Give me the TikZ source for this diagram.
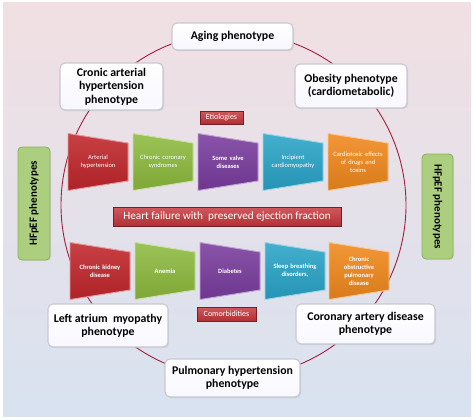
\documentclass[tikz,border=0pt]{standalone}
\usepackage{fontspec}
\setmainfont{Carlito}
\usetikzlibrary{shadows}
\definecolor{bgtop}{HTML}{F1E0E3}
\definecolor{bgbot}{HTML}{D8E2F0}
\definecolor{ringred}{HTML}{A31F3D}
\definecolor{tred}{HTML}{C0262B}
\definecolor{tgreen}{HTML}{8DBA3E}
\definecolor{tpurple}{HTML}{7A3C9E}
\definecolor{tcyan}{HTML}{2AA4C8}
\definecolor{torange}{HTML}{F0881C}
\definecolor{lblred}{HTML}{C4343A}
\definecolor{boxedge}{HTML}{C8C8D2}
\definecolor{hgreen}{HTML}{ABCF7E}
\definecolor{hgreenedge}{HTML}{8DB05C}
\newcommand{\trapz}[6]{% name, xleft, ycenter, colour, font, text
  \path[fill=#4, top color=#4!88!white, bottom color=#4!90!black, draw=#4!45!white, line width=0.9pt]
    (#2,#3-28.5) -- (#2+60,#3-19) -- (#2+60,#3+19) -- (#2,#3+28.5) -- cycle;
  \node[traptext, font=#5] (#1) at (#2+30,#3) {#6};}
\begin{document}
\begin{tikzpicture}[x=1pt,y=-1pt,
  pheno/.style={rounded corners=5pt, top color=white, bottom color=black!7!blue!3!white,
    draw=boxedge, line width=1.1pt, font=\fontsize{11.8}{13.3}\selectfont\bfseries, align=center,
    inner sep=2pt, drop shadow={opacity=0.18, shadow xshift=1pt, shadow yshift=-1.2pt}},
  redlbl/.style={top color=lblred!82!white, bottom color=lblred!90!black, draw=lblred!60!black,
    line width=0.4pt, text=white, inner sep=1pt},
  hfbox/.style={rounded corners=4pt, fill=hgreen, draw=hgreenedge, line width=0.8pt,
    font=\fontsize{11}{13}\selectfont\bfseries, inner sep=1pt,
    drop shadow={opacity=0.15, shadow xshift=1pt, shadow yshift=-1pt}},
  traptext/.style={text=white, align=center, text width=58pt, inner sep=0pt},
  tfont/.style={font=\fontsize{6.5}{8}\selectfont},
  ring/.style={draw=ringred, line width=0.9pt}]
% background
\fill[white] (0,0) rectangle (474,420);
\shade[top color=bgtop, bottom color=bgbot] (3,3) rectangle (471,416);
\useasboundingbox (0,0) rectangle (474,420);
% ring
\coordinate (ctr) at (233.5,205);
\draw[ring] (ctr) circle[radius=172.5pt];
% phenotype boxes
\node[pheno, minimum width=121pt, minimum height=27pt] (aging) at (232.5,36.5) {Aging phenotype};
\node[pheno, minimum width=103pt, minimum height=47pt] (cronic) at (111.5,86.5) {Cronic arterial\\hypertension\\phenotype};
\node[pheno, minimum width=112pt, minimum height=44pt] (obesity) at (351,86) {Obesity phenotype\\(cardiometabolic)};
\node[pheno, minimum width=120pt, minimum height=43pt] (latrium) at (108,325.5) {Left atrium\ \ myopathy\\phenotype};
\node[pheno, minimum width=139pt, minimum height=40pt] (coronary) at (365.5,324) {Coronary artery disease\\phenotype};
\node[pheno, minimum width=135pt, minimum height=38pt] (pulm) at (232.5,378) {Pulmonary hypertension\\phenotype};
% red labels
\node[redlbl, minimum width=43pt, minimum height=13pt, font=\fontsize{8}{9}\selectfont] (etio) at (221.5,117.5) {Etiologies};
\node[redlbl, minimum width=59pt, minimum height=14pt, font=\fontsize{8}{9}\selectfont] (comorb) at (226.5,314) {Comorbidities};
\node[redlbl, minimum width=228pt, minimum height=19pt, font=\fontsize{11.2}{12}\selectfont] (hfpef) at (227,217) {Heart failure with\ \ preserved ejection fraction};
% side boxes
\node[hfbox, rotate=90, minimum width=113pt, minimum height=32pt] (lside) at (34,203.5) {HFpEF phenotypes};
\node[hfbox, rotate=-90, minimum width=105pt, minimum height=31pt] (rside) at (437.5,206.5) {HFpEF phenotypes};
% etiologies row
\trapz{e1}{68}{162}{tred}{\fontsize{6.5}{8}\selectfont}{Arterial\\hypertension}
\trapz{e2}{133}{162}{tgreen}{\fontsize{6.5}{8}\selectfont}{Chronic coronary\\syndromes}
\trapz{e3}{198}{162}{tpurple}{\fontsize{6.5}{8}\selectfont\bfseries}{Some valve\\diseases}
\trapz{e4}{263}{162}{tcyan}{\fontsize{6.5}{8}\selectfont}{Incipient\\cardiomyopathy}
\trapz{e5}{328}{162}{torange}{\fontsize{6.5}{8}\selectfont}{Cardiotoxic effects\\of drugs and\\toxins}
% comorbidities row
\trapz{c1}{70}{271}{tred}{\fontsize{6.5}{8}\selectfont\bfseries}{Chronic kidney\\disease}
\trapz{c2}{135}{271}{tgreen}{\fontsize{6.5}{8}\selectfont\bfseries}{Anemia}
\trapz{c3}{200}{271}{tpurple}{\fontsize{6.5}{8}\selectfont\bfseries}{Diabetes}
\trapz{c4}{265}{271}{tcyan}{\fontsize{6.5}{8}\selectfont\bfseries}{Sleep breathing\\disorders,}
\trapz{c5}{329}{271}{torange}{\fontsize{6.5}{8}\selectfont\bfseries}{Chronic\\obstructive\\pulmonary\\disease}
\end{tikzpicture}
\end{document}
